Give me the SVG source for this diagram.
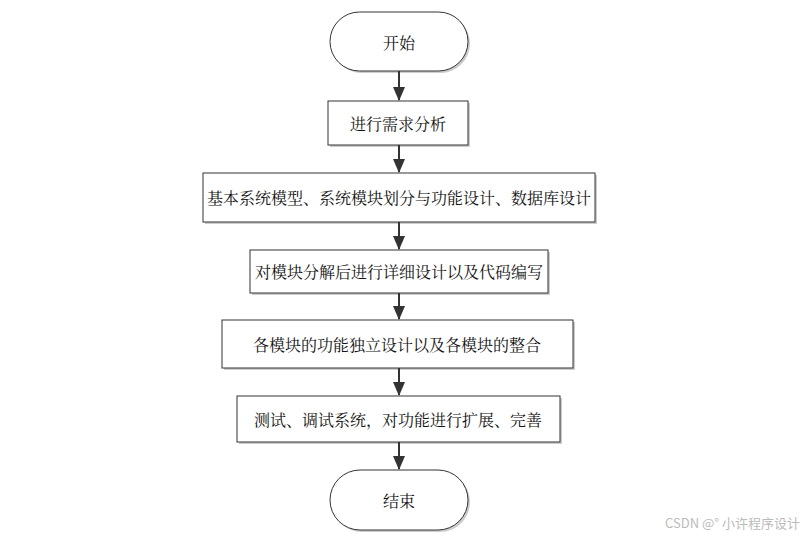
<svg xmlns="http://www.w3.org/2000/svg" width="812" height="541" viewBox="0 0 812 541">
<style>
.n{fill:#fff;stroke:#333;stroke-width:1}
.s{fill:#ccc}
.t{font-family:"Noto Serif CJK SC","Noto Sans CJK SC",sans-serif;font-size:16px;fill:#111;text-anchor:middle;dominant-baseline:central}
.c{stroke:#333;stroke-width:2;fill:none}
</style>
<defs><marker id="a" markerWidth="14" markerHeight="12" refX="13" refY="6" orient="auto" markerUnits="userSpaceOnUse"><path d="M0,0L14,6L0,12z" fill="#333"/></marker></defs>
<rect width="812" height="541" fill="#fff"/>
<g id="start"><rect class="s" x="332" y="14" width="138" height="59" rx="29.5"/><rect class="n" x="330" y="12" width="138" height="59" rx="29.5"/><text class="t" x="399" y="42">开始</text></g>
<g id="n1"><rect class="s" x="330" y="103" width="140" height="44"/><rect class="n" x="328" y="101" width="140" height="44"/><text class="t" x="398" y="123">进行需求分析</text></g>
<g id="n2"><rect class="s" x="205" y="175" width="392" height="49"/><rect class="n" x="203" y="173" width="392" height="49"/><text class="t" x="399" y="197">基本系统模型、系统模块划分与功能设计、数据库设计</text></g>
<g id="n3"><rect class="s" x="252" y="252" width="298" height="43"/><rect class="n" x="250" y="250" width="298" height="43"/><text class="t" x="399" y="271">对模块分解后进行详细设计以及代码编写</text></g>
<g id="n4"><rect class="s" x="224" y="322" width="351" height="48"/><rect class="n" x="222" y="320" width="351" height="48"/><text class="t" x="397" y="344">各模块的功能独立设计以及各模块的整合</text></g>
<g id="n5"><rect class="s" x="239" y="398" width="323" height="46"/><rect class="n" x="237" y="396" width="323" height="46"/><text class="t" x="398" y="419">测试、调试系统，对功能进行扩展、完善</text></g>
<g id="end"><rect class="s" x="332" y="472" width="138" height="60" rx="30"/><rect class="n" x="330" y="470" width="138" height="60" rx="30"/><text class="t" x="399" y="500">结束</text></g>
<g id="connectors">
<line class="c" x1="399" y1="71" x2="399" y2="100" marker-end="url(#a)"/>
<line class="c" x1="399" y1="145" x2="399" y2="172" marker-end="url(#a)"/>
<line class="c" x1="399" y1="222" x2="399" y2="249" marker-end="url(#a)"/>
<line class="c" x1="399" y1="293" x2="399" y2="319" marker-end="url(#a)"/>
<line class="c" x1="399" y1="368" x2="399" y2="395" marker-end="url(#a)"/>
<line class="c" x1="399" y1="442" x2="399" y2="469" marker-end="url(#a)"/>
</g>
<text x="800" y="528" font-family="Noto Sans CJK SC,sans-serif" font-size="13" fill="#bbb" text-anchor="end">CSDN @° 小许程序设计</text>
</svg>
